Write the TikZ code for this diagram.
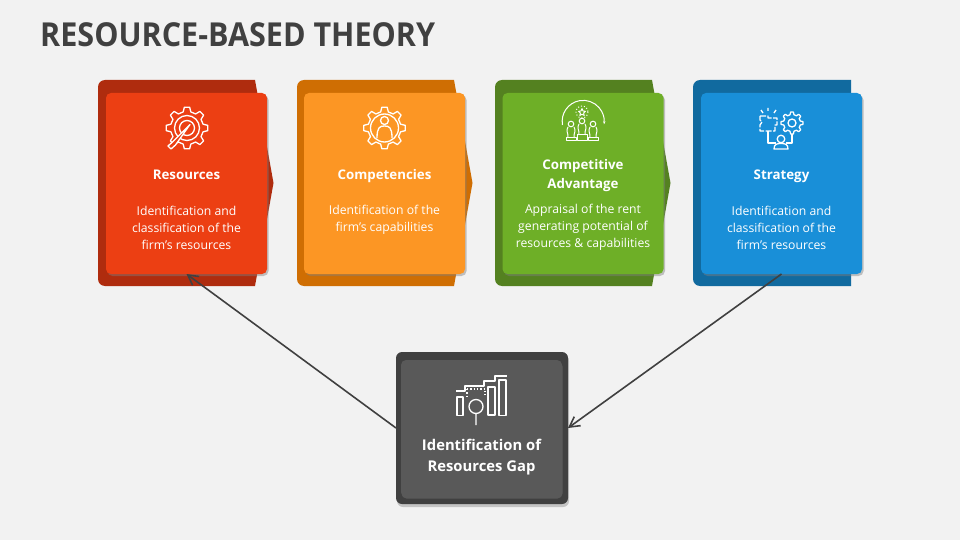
\documentclass[tikz,border=0pt]{standalone}
\usepackage{fontspec}
\setmainfont{Open Sans}
\newfontfamily\titlefont[FakeStretch=0.925]{Open Sans}
\usetikzlibrary{arrows.meta,shadows}
\definecolor{pagegray}{HTML}{F2F2F2}
\definecolor{inkgray}{HTML}{404040}
\definecolor{resfront}{HTML}{EC3F13}
\definecolor{resback}{HTML}{AF2C0E}
\definecolor{compfront}{HTML}{FC9624}
\definecolor{compback}{HTML}{CF6E03}
\definecolor{advfront}{HTML}{6EAF27}
\definecolor{advback}{HTML}{548120}
\definecolor{stratfront}{HTML}{198FD8}
\definecolor{stratback}{HTML}{116A9F}
\definecolor{gapfront}{HTML}{595959}
\newcommand{\backtab}[2]{\fill[#2] (#1+157,80) [rounded corners=7] -- (#1,80) -- (#1,286) [sharp corners] -- (#1+157,286) -- (#1+175.5,183) -- cycle;}
\newcommand{\geartrace}[5]{\draw[iconline] ({#1+#4*cos(-360/#5*0.3)},{#2+#4*sin(-360/#5*0.3)})
	\foreach \t in {1,...,#5} {
		-- ({#1+#3*cos(360/#5*(\t-1)-360/#5*0.16)},{#2+#3*sin(360/#5*(\t-1)-360/#5*0.16)})
		-- ({#1+#3*cos(360/#5*(\t-1)+360/#5*0.16)},{#2+#3*sin(360/#5*(\t-1)+360/#5*0.16)})
		-- ({#1+#4*cos(360/#5*(\t-1)+360/#5*0.3)},{#2+#4*sin(360/#5*(\t-1)+360/#5*0.3)})
		-- ({#1+#4*cos(360/#5*\t-360/#5*0.3)},{#2+#4*sin(360/#5*\t-360/#5*0.3)})
	} -- cycle;}
\newcommand{\podiumfigure}[2]{\draw[iconline,line width=1] (#1,#2) circle (2.8)
	(#1-3,#2+3) .. controls (#1-5.5,#2+7) and (#1-2.5,#2+9) .. (#1-3,#2+14)
	(#1+3,#2+3) .. controls (#1+5.5,#2+7) and (#1+2.5,#2+9) .. (#1+3,#2+14);}
\begin{document}
\begin{tikzpicture}[
		x=1pt,y=-1pt,
		cardbox/.style={rounded corners=5,minimum width=161,minimum height=181,inner sep=0,outer sep=0,
				drop shadow={shadow xshift=1.5,shadow yshift=2,opacity=.45}},
		cardhead/.style={text=white,align=center,font=\fontsize{13.3}{19}\selectfont\bfseries},
		cardtext/.style={text=white,align=center,font=\fontsize{12.2}{17}\selectfont},
		iconline/.style={draw=white,line width=1.3,line join=round},
		gaparrow/.style={draw=inkgray,line width=1.6,-{Straight Barb[length=10,width=11,line width=1.6]}}
	]
	\useasboundingbox (0,0) rectangle (960,540);
	\fill[pagegray] (0,0) rectangle (960,540);
	\node[text=inkgray,anchor=west,inner sep=0,font=\fontsize{33}{33}\titlefont\bfseries] (title) at (40,35) {RESOURCE-BASED THEORY};

	\backtab{98}{resback}
	\backtab{297}{compback}
	\backtab{495}{advback}
	\fill[stratback] (851,80) [rounded corners=7] -- (693,80) -- (693,286) [sharp corners] -- (851,286) -- cycle;

	\node[cardbox,fill=resfront] (res) at (186.5,183.5) {};
	\node[cardbox,fill=compfront] (comp) at (384.5,183.5) {};
	\node[cardbox,fill=advfront] (adv) at (583,183.5) {};
	\node[cardbox,fill=stratfront] (strat) at (781.5,183.5) {};
	\node[rounded corners=6,fill=inkgray,minimum width=172,minimum height=152,inner sep=0,outer sep=0,
		drop shadow={shadow xshift=1,shadow yshift=3,opacity=.4}] (gapback) at (482,428) {};
	\node[rounded corners=5,fill=gapfront,minimum width=161,minimum height=137,inner sep=0,outer sep=0,
		drop shadow={shadow xshift=.5,shadow yshift=1.5,opacity=.4}] (gap) at (481.5,428.5) {};

	\draw[gaparrow] (gapback.west) -- (res.south);
	\draw[gaparrow] (strat.south) -- (gapback.east);

	\node[cardhead,anchor=base] (reshead) at (186.5,179.5) {Resources};
	\node[cardtext] (restext) at (186.5,228) {Identification and\\classification of the\\firm’s resources};
	\node[cardhead,anchor=base] (comphead) at (384.5,179.5) {Competencies};
	\node[cardtext] (comptext) at (384.5,219.5) {Identification of the\\firm’s capabilities};
	\node[cardhead] (advhead) at (583,175.5) {Competitive\\Advantage};
	\node[cardtext] (advtext) at (583,227.5) {Appraisal of the rent\\generating potential of\\resources \& capabilities};
	\node[cardhead,anchor=base] (strathead) at (781.5,179.5) {Strategy};
	\node[cardtext] (strattext) at (781.5,228) {Identification and\\classification of the\\firm’s resources};
	\node[text=white,align=center,font=\fontsize{14.8}{21}\selectfont\bfseries] (gaptext) at (481.5,457.5) {Identification of\\Resources Gap};

	\geartrace{187}{128}{21}{16.5}{8}
	\draw[iconline] (187,128) circle (12.5) (187,128) circle (7.5);
	\draw[iconline,fill=resfront] (190,124.5) -- (172.5,142) -- (168,146) -- (171,149) -- (175.5,145) -- cycle;

	\geartrace{384.5}{128}{21}{16.5}{8}
	\draw[iconline] (384.5,128) circle (14);
	\draw[iconline] (384.5,120.5) circle (4);
	\draw[iconline] (377,138) .. controls (377,127) and (380,126) .. (384.5,126) .. controls (389,126) and (392,127) .. (392,138);

	\draw[iconline,line width=1,-{Stealth[length=3]}] (562.5,125) arc (170:368:21);
	\draw[iconline,line width=1,dotted] (582,112) circle (6);
	\draw[iconline,line width=.9] (582,108.5) -- (583,111) -- (585.5,111.3) -- (583.6,113) -- (584.2,115.5) -- (582,114.2) -- (579.8,115.5) -- (580.4,113) -- (578.5,111.3) -- (581,111) -- cycle;
	\podiumfigure{571}{124}
	\podiumfigure{582}{121}
	\podiumfigure{593}{124}
	\draw[iconline,line width=1] (566,141) rectangle (576,138) (577,141) rectangle (587,135) (588,141) rectangle (598,138);

	\draw[iconline,dash pattern=on 6 off 1.5] (760,116) -- (768,116) -- (768,118) -- (777,118) -- (777,125) -- (775,125) -- (775,131) -- (760,131) -- (760,125) -- (762,122) -- (760,120) -- cycle;
	\draw[iconline] (768,108) -- (768,111) (761,110) -- (763,113) (776,110) -- (774,113);
	\geartrace{792}{123}{11}{8.5}{8}
	\draw[iconline] (792,123) circle (4);
	\draw[iconline] (768,131) -- (768,143) -- (776,143) (792,134) -- (792,143) -- (786,143);
	\draw[iconline] (781,139) circle (3.8);
	\draw[iconline] (774,149) .. controls (774,144) and (777,143.5) .. (781,143.5) .. controls (785,143.5) and (788,144) .. (788,149) -- cycle;

	\draw[iconline] (456,391) -- (465,391) -- (465,386) -- (484,386) -- (484,381) -- (495,381) -- (495,376) -- (507,376);
	\draw[iconline,dotted] (467,389) -- (485,389) -- (485,397) (467,389) -- (467,397);
	\draw[iconline] (457,397) rectangle (463,415.5) (488,387) rectangle (495,415) (499,380) rectangle (506,415.5);
	\draw[iconline] (476,406.5) circle (7) (476,413.5) -- (476,425);
\end{tikzpicture}
\end{document}
